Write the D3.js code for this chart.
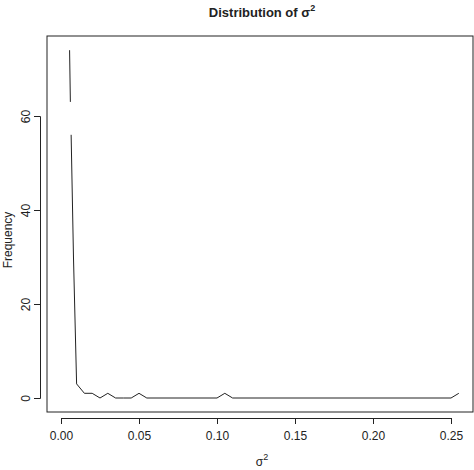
<!DOCTYPE html>
<html><head><meta charset="utf-8">
<script src="https://cdn.jsdelivr.net/npm/d3@7"></script>
<style>body{margin:0;background:#fff}text{font-family:"Liberation Sans",Arial,sans-serif;fill:#222}</style>
</head><body><div id="chart"></div>
<script>
// Data (null = gap in line)
const sigma2 = [0.0055, 0.006, 0.0062, 0.0065, 0.008, 0.01, 0.015, 0.02, 0.025, 0.03, 0.035, 0.04, 0.045, 0.05, 0.055, 0.1, 0.105, 0.11, 0.25, 0.255];
const freq = [74, 63, null, 56, 30, 3, 1, 1, 0, 1, 0, 0, 0, 1, 0, 0, 1, 0, 0, 1];
const xTicks = [0, 0.05, 0.1, 0.15, 0.2, 0.25];
const yTicks = [0, 20, 40, 60];

const W = 474, H = 470;
const box = {left: 47, right: 473, top: 36, bottom: 412};

const x = d3.scaleLinear().domain([0, 0.25]).range([61, 451]);
const y = d3.scaleLinear().domain([0, 60]).range([398, 116]);

const svg = d3.select("#chart").append("svg")
    .attr("width", W).attr("height", H);

svg.append("rect")
    .attr("x", box.left).attr("y", box.top)
    .attr("width", box.right - box.left).attr("height", box.bottom - box.top)
    .attr("fill", "none").attr("stroke", "#222");

const pts = sigma2.map((d, i) => [d, freq[i]]);
svg.append("path")
    .datum(pts)
    .attr("fill", "none").attr("stroke", "#222").attr("stroke-width", 1)
    .attr("d", d3.line().defined(d => d[1] != null).x(d => x(d[0])).y(d => y(d[1])));

// x axis
const xa = svg.append("g").attr("transform", "translate(0,418)")
    .call(d3.axisBottom(x).tickValues(xTicks).tickFormat(d3.format(".2f")).tickSize(6).tickPadding(7));
xa.selectAll("path,line").attr("stroke", "#222");
xa.selectAll("text").style("font-size", "12px");

// y axis
const ya = svg.append("g").attr("transform", "translate(40,0)")
    .call(d3.axisLeft(y).tickValues(yTicks).tickSize(6).tickPadding(0));
ya.selectAll("path,line").attr("stroke", "#222");
ya.selectAll("text")
    .style("font-size", "12px")
    .attr("text-anchor", "middle")
    .attr("transform", "translate(-14,0) rotate(-90)")
    .attr("x", 0).attr("y", 0).attr("dy", "0.35em");

// title and labels
const title = svg.append("text").attr("x", 262).attr("y", 17).attr("text-anchor", "middle")
    .style("font-size", "13px").style("font-weight", "bold");
title.append("tspan").text("Distribution of σ");
title.append("tspan").attr("dy", -6).style("font-size", "9px").text("2");

const xl = svg.append("text").attr("x", 262).attr("y", 466).attr("text-anchor", "middle").style("font-size", "12px");
xl.append("tspan").text("σ");
xl.append("tspan").attr("dy", -6).style("font-size", "9px").text("2");

svg.append("text").attr("transform", "translate(12,240) rotate(-90)")
    .attr("text-anchor", "middle").style("font-size", "12px").text("Frequency");
</script></body></html>
